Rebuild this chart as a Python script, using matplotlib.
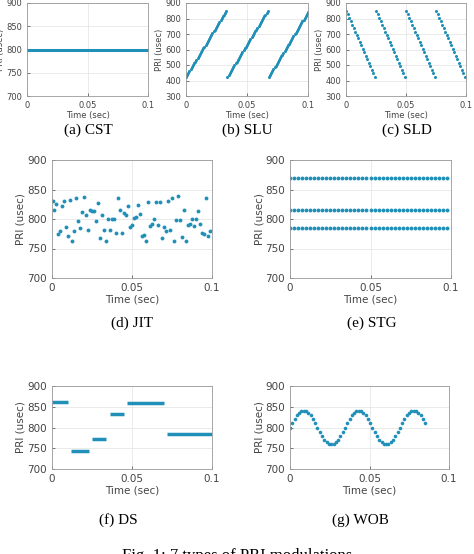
import numpy as np
import matplotlib
matplotlib.use("Agg")
import matplotlib.pyplot as plt

C = "#2090b8"
cst_level = 800
slu_ramps = [(0.0, 0.033, 425, 850), (0.034, 0.067, 425, 850), (0.068, 0.1, 425, 840)]
sld_ramps = [(0.0, 0.024, 850, 425), (0.025, 0.049, 850, 425), (0.050, 0.074, 850, 425), (0.075, 0.099, 850, 425)]
jit_px = [157,162,168,174,180,186,192,198,204,210,216,222,228,234,240,246,252,258,264,270,276,282,288,294,300,306,312,318,324,330,336,342,348,354,360,366,372,378,384,390,396,402,408,414,420,426,432,438,444,450,456,462,468,474,480,486,492,498,504,510,516,522,528,534,540,546,552,558,564,570,576,582,588,594,600,606,612,618,624,630]
jit_y = [830,816,826,775,780,822,831,786,772,832,763,780,835,796,784,812,838,806,781,815,814,813,796,827,768,806,781,763,800,781,800,800,776,836,815,776,810,807,822,787,789,802,804,824,808,771,773,763,829,788,792,800,829,789,828,768,786,779,830,781,835,763,798,839,798,769,815,762,789,791,800,788,800,813,792,777,775,836,771,779]
jit_x = [(p - 155) / 480 * 0.1 for p in jit_px]
stg_levels = [870, 815, 785]
ds_segments = [(0.0, 0.010, 862), (0.012, 0.023, 743), (0.025, 0.034, 773), (0.036, 0.045, 832), (0.047, 0.070, 860), (0.072, 0.100, 785)]
wob_cycle = [800,810,820,829,835,839,840,839,835,829,820,810,800,790,780,771,765,761,760,761,765,771,780,790]
wob_y = (wob_cycle * 3)[:60]
wob_x = [i * 0.00144 for i in range(60)]

W, H = 474, 554
fig = plt.figure(figsize=(W/100, H/100), dpi=100)

def ax_at(x0, y0, x1, y1):
    return fig.add_axes([x0/W, 1 - y1/H, (x1-x0)/W, (y1-y0)/H])

def style(ax, ylim, yt, fs=7):
    ax.set_xlim(0, 0.1); ax.set_ylim(*ylim)
    ax.set_xticks([0, 0.05, 0.1]); ax.set_xticklabels(["0", "0.05", "0.1"])
    ax.set_yticks(yt)
    ax.grid(True, color="#e6e6e6", lw=0.6)
    ax.set_axisbelow(True)
    ax.tick_params(labelsize=fs, colors="#444444", length=2, width=0.5, direction="in")
    for s in ax.spines.values():
        s.set_color("#999999"); s.set_linewidth(0.6)
    ax.set_xlabel("Time (sec)", fontsize=fs, color="#444444", labelpad=1)
    ax.set_ylabel("PRI (usec)", fontsize=fs, color="#444444", labelpad=1)

def cap(x, y, t, fs=11):
    fig.text(x/W, 1 - y/H, t, ha="center", va="center", fontsize=fs, family="Liberation Serif")

ms = 2.2
a = ax_at(27, 3, 148, 96); style(a, (700, 900), [700, 750, 800, 850, 900], 6)
xs = np.arange(0, 0.1, 0.0005)
a.plot(xs, [cst_level]*len(xs), "o", color=C, ms=ms, mec="none")
b = ax_at(186, 3, 308, 96); style(b, (300, 900), range(300, 901, 100), 6)
for x0, x1, y0, y1 in slu_ramps:
    b.plot(np.linspace(x0, x1, 36), np.linspace(y0, y1, 36), "o", color=C, ms=ms, mec="none")
c = ax_at(346, 3, 466, 96); style(c, (300, 900), range(300, 901, 100), 6)
for x0, x1, y0, y1 in sld_ramps:
    c.plot(np.linspace(x0, x1, 20), np.linspace(y0, y1, 20), "o", color=C, ms=ms, mec="none")
cap(88, 130, "(a) CST"); cap(247, 130, "(b) SLU"); cap(407, 130, "(c) SLD")

d = ax_at(52, 160, 212, 278); style(d, (700, 900), [700, 750, 800, 850, 900], 7.5)
d.plot(jit_x, jit_y, "o", color=C, ms=2.8, mec="none")
e = ax_at(290, 160, 451, 278); style(e, (700, 900), [700, 750, 800, 850, 900], 7.5)
xs = np.arange(0, 0.1, 0.0025)
for lv in stg_levels:
    e.plot(xs, [lv]*len(xs), "o", color=C, ms=2.8, mec="none")
cap(132, 323, "(d) JIT"); cap(372, 323, "(e) STG")

f = ax_at(52, 386, 212, 469); style(f, (700, 900), [700, 750, 800, 850, 900], 7.5)
for x0, x1, y in ds_segments:
    f.plot([x0, x1], [y, y], "-", color=C, lw=2.5, solid_capstyle="butt")
g = ax_at(290, 386, 449, 469); style(g, (700, 900), [700, 750, 800, 850, 900], 7.5)
g.plot(wob_x, wob_y, "o", color=C, ms=2.6, mec="none")
cap(118, 520, "(f) DS"); cap(360, 520, "(g) WOB")
cap(237, 556, "Fig. 1: 7 types of PRI modulations", fs=12)

plt.savefig("out.png", dpi=100)
